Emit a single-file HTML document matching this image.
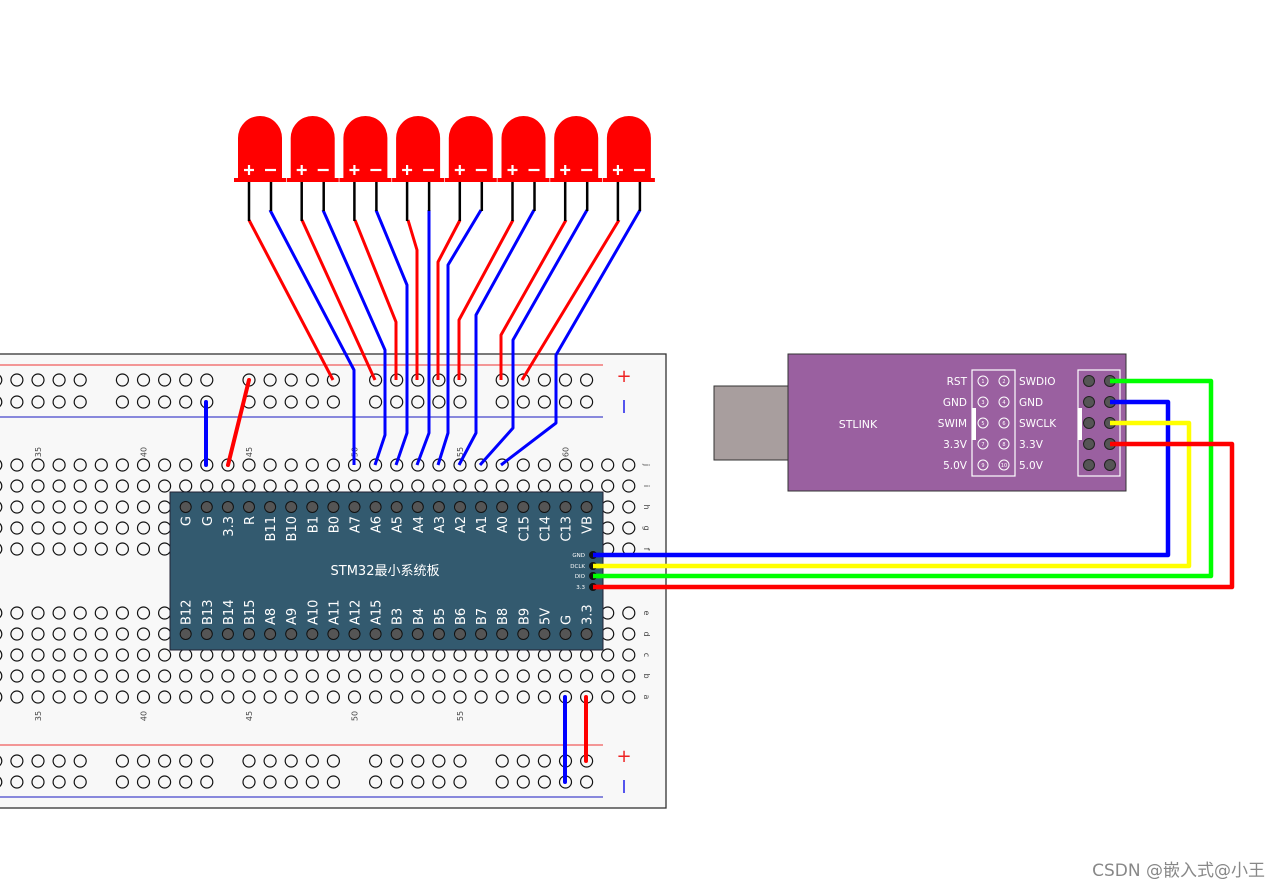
<!DOCTYPE html>
<html><head><meta charset="utf-8"><style>
html,body{margin:0;padding:0;background:#fff;}
svg{display:block;}
text{font-family:"DejaVu Sans","Liberation Sans","Noto Sans CJK SC",sans-serif;}
</style></head><body>
<svg id="s" width="1280" height="889" viewBox="0 0 1280 889" xmlns="http://www.w3.org/2000/svg">
<rect x="-10" y="354" width="676" height="454" fill="#f8f8f8" stroke="#333" stroke-width="1.3"/>
<line x1="0" y1="365" x2="603" y2="365" stroke="#e33" stroke-width="1"/>
<line x1="0" y1="417" x2="603" y2="417" stroke="#44c" stroke-width="1.2"/>
<line x1="0" y1="745" x2="603" y2="745" stroke="#e33" stroke-width="1"/>
<line x1="0" y1="797" x2="603" y2="797" stroke="#44c" stroke-width="1.2"/>
<text x="624" y="382" fill="#e22" font-size="18" text-anchor="middle">+</text>
<line x1="624" y1="400" x2="624" y2="413" stroke="#55e" stroke-width="2"/>
<text x="624" y="762" fill="#e22" font-size="18" text-anchor="middle">+</text>
<line x1="624" y1="780" x2="624" y2="793" stroke="#55e" stroke-width="2"/>
<g id="holes" fill="none" stroke="#111" stroke-width="1.2"></g>
<g id="labels" font-size="8" fill="#444"></g>
<rect x="170" y="492" width="433" height="158" fill="#335a6f" stroke="#223" stroke-width="1"/>
<g id="pins"></g>
<text x="385" y="575" fill="#fff" font-size="13" text-anchor="middle">STM32最小系统板</text>
<g font-size="5.5" fill="#fff" text-anchor="end">
<text x="585" y="557">GND</text><text x="585" y="568">DCLK</text><text x="585" y="578">DIO</text><text x="585" y="589">3.3</text>
</g>
<g stroke-linecap="round" stroke-width="4" fill="none">
<line x1="206" y1="402" x2="206" y2="465" stroke="#00f"/>
<line x1="249" y1="380" x2="228" y2="465" stroke="#f00"/>
<line x1="565" y1="697" x2="565" y2="782" stroke="#00f"/>
<line x1="586" y1="697" x2="586" y2="761" stroke="#f00"/>
</g>
<g stroke-width="3" fill="none" stroke-linejoin="round">
<polyline stroke="#f00" points="249,220 333,380"/>
<polyline stroke="#f00" points="302,220 375,380"/>
<polyline stroke="#f00" points="355,220 396,322 396,380"/>
<polyline stroke="#f00" points="408,220 417,250 417,380"/>
<polyline stroke="#f00" points="460,220 438,262 438,380"/>
<polyline stroke="#f00" points="513,220 459,320 459,380"/>
<polyline stroke="#f00" points="566,220 501,335 501,380"/>
<polyline stroke="#f00" points="619,220 522,380"/>
<polyline stroke="#00f" points="270,210 354,370 354,465"/>
<polyline stroke="#00f" points="323,210 385,350 385,435 375,465"/>
<polyline stroke="#00f" points="376,210 407,285 407,433 396,465"/>
<polyline stroke="#00f" points="429,210 429,433 417,465"/>
<polyline stroke="#00f" points="481,210 448,265 448,433 438,465"/>
<polyline stroke="#00f" points="534,210 476,315 476,433 459,465"/>
<polyline stroke="#00f" points="587,210 513,340 513,428 480,465"/>
<polyline stroke="#00f" points="640,210 556,355 556,423 501,465"/>
</g>
<g id="leds"></g>
<rect x="714" y="386" width="74" height="74" fill="#a89e9e" stroke="#333" stroke-width="1"/>
<rect x="788" y="354" width="338" height="137" fill="#9a60a0" stroke="#333" stroke-width="1"/>
<text x="858" y="428" fill="#fff" font-size="11" text-anchor="middle">STLINK</text>
<rect x="972" y="370" width="43" height="106" fill="none" stroke="#fff" stroke-width="1.2"/>
<rect x="972" y="408" width="4" height="32" fill="#fff"/>
<rect x="1078" y="370" width="42" height="106" fill="none" stroke="#fff" stroke-width="1.2"/>
<rect x="1078" y="408" width="4" height="32" fill="#fff"/>
<g id="st" font-size="10.5" fill="#fff"></g>
<g stroke-width="4.5" fill="none" stroke-linejoin="round">
<polyline stroke="#00f" points="1110,402 1168,402 1168,555 593,555"/>
<polyline stroke="#ff0" points="1110,423 1189,423 1189,566 593,566"/>
<polyline stroke="#0f0" points="1110,381 1211,381 1211,576 593,576"/>
<polyline stroke="#f00" points="1110,444 1232,444 1232,587 593,587"/>
</g>
<g fill="#111"><circle cx="593" cy="555" r="4"/><circle cx="593" cy="566" r="4"/><circle cx="593" cy="576" r="4"/><circle cx="593" cy="587" r="4"/></g>
<g stroke-width="4.5"><line x1="593" y1="555" x2="600" y2="555" stroke="#00f"/><line x1="593" y1="566" x2="600" y2="566" stroke="#ff0"/><line x1="593" y1="576" x2="600" y2="576" stroke="#0f0"/><line x1="593" y1="587" x2="600" y2="587" stroke="#f00"/></g>
<text x="1265" y="876" fill="#888" font-size="17" text-anchor="end" font-family="Liberation Sans,Noto Sans CJK SC,sans-serif">CSDN @嵌入式@小王</text>
</svg>
<script>
var NS="http://www.w3.org/2000/svg";
function el(p,t,a,txt){var e=document.createElementNS(NS,t);for(var k in a)e.setAttribute(k,a[k]);if(txt!=null)e.textContent=txt;p.appendChild(e);return e;}
function cx(c){return 38+(c-35)*21.1;}
var H=document.getElementById('holes');
var rows=[465,486,507,528,549,613,634,655,676,697];
for(var c=32;c<=63;c++)rows.forEach(function(y){el(H,'circle',{cx:cx(c),cy:y,r:6});});
[[33,37],[39,43],[45,49],[51,55],[57,61]].forEach(function(g){for(var c=g[0];c<=g[1];c++)[380,402,761,782].forEach(function(y){el(H,'circle',{cx:cx(c),cy:y,r:6});});});
var L=document.getElementById('labels');
[35,40,45,50,55,60].forEach(function(n){var x=cx(n);
 el(L,'text',{x:0,y:0,transform:'translate('+(x+3)+',452) rotate(-90)','text-anchor':'middle'},n);
 if(n<60)el(L,'text',{x:0,y:0,transform:'translate('+(x+3)+',716) rotate(-90)','text-anchor':'middle'},n);});
'jihgf'.split('').forEach(function(ch,i){el(L,'text',{x:0,y:0,transform:'translate(644,'+rows[i]+') rotate(90)','text-anchor':'middle'},ch);});
'edcba'.split('').forEach(function(ch,i){el(L,'text',{x:0,y:0,transform:'translate(644,'+rows[5+i]+') rotate(90)','text-anchor':'middle'},ch);});
var P=document.getElementById('pins');
var topL=['G','G','3.3','R','B11','B10','B1','B0','A7','A6','A5','A4','A3','A2','A1','A0','C15','C14','C13','VB'];
var botL=['B12','B13','B14','B15','A8','A9','A10','A11','A12','A15','B3','B4','B5','B6','B7','B8','B9','5V','G','3.3'];
for(var i=0;i<20;i++){var x=cx(42+i);
 el(P,'circle',{cx:x,cy:507,r:5.5,fill:'#555',stroke:'#111','stroke-width':1});
 el(P,'circle',{cx:x,cy:634,r:5.5,fill:'#555',stroke:'#111','stroke-width':1});
 el(P,'text',{x:0,y:0,transform:'translate('+(x+5)+',516) rotate(-90)','text-anchor':'end','font-size':13,fill:'#fff'},topL[i]);
 el(P,'text',{x:0,y:0,transform:'translate('+(x+5)+',625) rotate(-90)','text-anchor':'start','font-size':13,fill:'#fff'},botL[i]);}
var LE=document.getElementById('leds');
for(var i=0;i<8;i++){var c=260+i*52.7;
 el(LE,'path',{d:'M'+(c-22)+',178 L'+(c-22)+',138 A22,22 0 0 1 '+(c+22)+',138 L'+(c+22)+',178 Z',fill:'#f00'});
 el(LE,'rect',{x:c-26,y:178,width:52,height:4,fill:'#f00'});
 el(LE,'line',{x1:c-11,y1:182,x2:c-11,y2:221,stroke:'#000','stroke-width':2.5});
 el(LE,'line',{x1:c+11,y1:182,x2:c+11,y2:211,stroke:'#000','stroke-width':2.5});
 el(LE,'line',{x1:c-16,y1:170,x2:c-6,y2:170,stroke:'#fff','stroke-width':2.2});
 el(LE,'line',{x1:c-11,y1:165,x2:c-11,y2:175,stroke:'#fff','stroke-width':2.2});
 el(LE,'line',{x1:c+5,y1:170,x2:c+16,y2:170,stroke:'#fff','stroke-width':2.2});}
var S=document.getElementById('st');
var ll=['RST','GND','SWIM','3.3V','5.0V'],rl=['SWDIO','GND','SWCLK','3.3V','5.0V'];
for(var i=0;i<5;i++){var y=381+i*21;
 el(S,'text',{x:967,y:y+4,'text-anchor':'end'},ll[i]);
 el(S,'text',{x:1019,y:y+4},rl[i]);
 el(S,'circle',{cx:983,cy:y,r:5,fill:'none',stroke:'#fff','stroke-width':1});
 el(S,'circle',{cx:1004,cy:y,r:5,fill:'none',stroke:'#fff','stroke-width':1});
 el(S,'text',{x:983,y:y+2,'text-anchor':'middle','font-size':5},2*i+1);
 el(S,'text',{x:1004,y:y+2,'text-anchor':'middle','font-size':5},2*i+2);
 el(S,'circle',{cx:1089,cy:y,r:5.5,fill:'#555',stroke:'#222','stroke-width':1});
 el(S,'circle',{cx:1110,cy:y,r:5.5,fill:'#555',stroke:'#222','stroke-width':1});}
</script>
</body></html>
